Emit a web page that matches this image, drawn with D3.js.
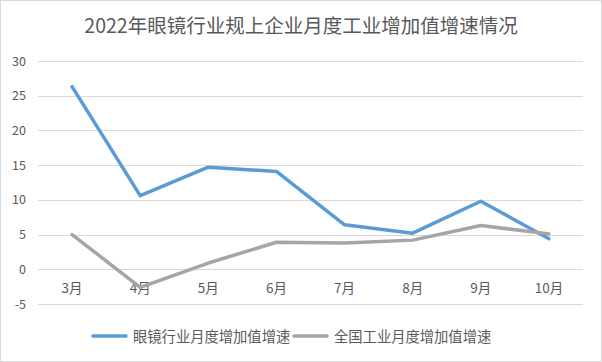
<!DOCTYPE html>
<html>
<head>
<meta charset="utf-8">
<script src="https://cdn.jsdelivr.net/npm/d3@7"></script>
<style>
  body { margin: 0; background: #fff; }
  text { font-family: "Noto Sans CJK SC", "Noto Sans", sans-serif; fill: #595959; }
</style>
</head>
<body>
<div id="chart"></div>
<script>
const months = ["3月", "4月", "5月", "6月", "7月", "8月", "9月", "10月"];
const glassesGrowth = [26.3, 10.6, 14.7, 14.1, 6.4, 5.2, 9.8, 4.4];
const nationalGrowth = [5.0, -2.6, 0.9, 3.9, 3.8, 4.2, 6.3, 5.1];
const yTicks = [-5, 0, 5, 10, 15, 20, 25, 30];
const seriesNames = ["眼镜行业月度增加值增速", "全国工业月度增加值增速"];
const colors = ["#5b9bd5", "#a5a5a5"];

const W = 602, H = 362;
const svg = d3.select("#chart").append("svg")
    .attr("width", W).attr("height", H);

svg.append("rect")
    .attr("x", 0.5).attr("y", 0.5)
    .attr("width", W - 1).attr("height", H - 1)
    .attr("fill", "#fff").attr("stroke", "#d9d9d9");

svg.append("text")
    .attr("x", 301).attr("y", 33)
    .attr("text-anchor", "middle")
    .style("font-size", "19.5px")
    .text("2022年眼镜行业规上企业月度工业增加值增速情况");

const x = d3.scaleBand().domain(months).range([38, 583]);
const y = d3.scaleLinear().domain([-5, 30]).range([304, 61]);

// gridlines
svg.append("g").selectAll("line")
  .data(yTicks).enter().append("line")
    .attr("x1", 38).attr("x2", 583)
    .attr("y1", d => Math.round(y(d)) + 0.5)
    .attr("y2", d => Math.round(y(d)) + 0.5)
    .attr("stroke", "#d9d9d9");

// y labels
svg.append("g").selectAll("text")
  .data(yTicks).enter().append("text")
    .attr("x", 26).attr("y", d => y(d) + 4.5)
    .attr("text-anchor", "end")
    .style("font-size", "12.5px")
    .text(d => d);

// x labels
svg.append("g").selectAll("text")
  .data(months).enter().append("text")
    .attr("x", d => x(d) + x.bandwidth() / 2)
    .attr("y", y(0) + 24)
    .attr("text-anchor", "middle")
    .style("font-size", "13.5px")
    .text(d => d);

const line = d3.line()
    .x((d, i) => x(months[i]) + x.bandwidth() / 2)
    .y(d => y(d));

[glassesGrowth, nationalGrowth].forEach((s, k) => {
    svg.append("path")
        .datum(s)
        .attr("d", line)
        .attr("fill", "none")
        .attr("stroke", colors[k])
        .attr("stroke-width", 3.5)
        .attr("stroke-linejoin", "round")
        .attr("stroke-linecap", "round");
});

// legend
const legendX = [93, 294];
seriesNames.forEach((name, k) => {
    const g = svg.append("g").attr("transform", `translate(${legendX[k]},336)`);
    g.append("line")
        .attr("x1", 0).attr("x2", 33)
        .attr("y1", 0).attr("y2", 0)
        .attr("stroke", colors[k])
        .attr("stroke-width", 3.5)
        .attr("stroke-linecap", "round");
    g.append("text")
        .attr("x", 40).attr("y", 5.5)
        .style("font-size", "14.3px")
        .text(name);
});
</script>
</body>
</html>
